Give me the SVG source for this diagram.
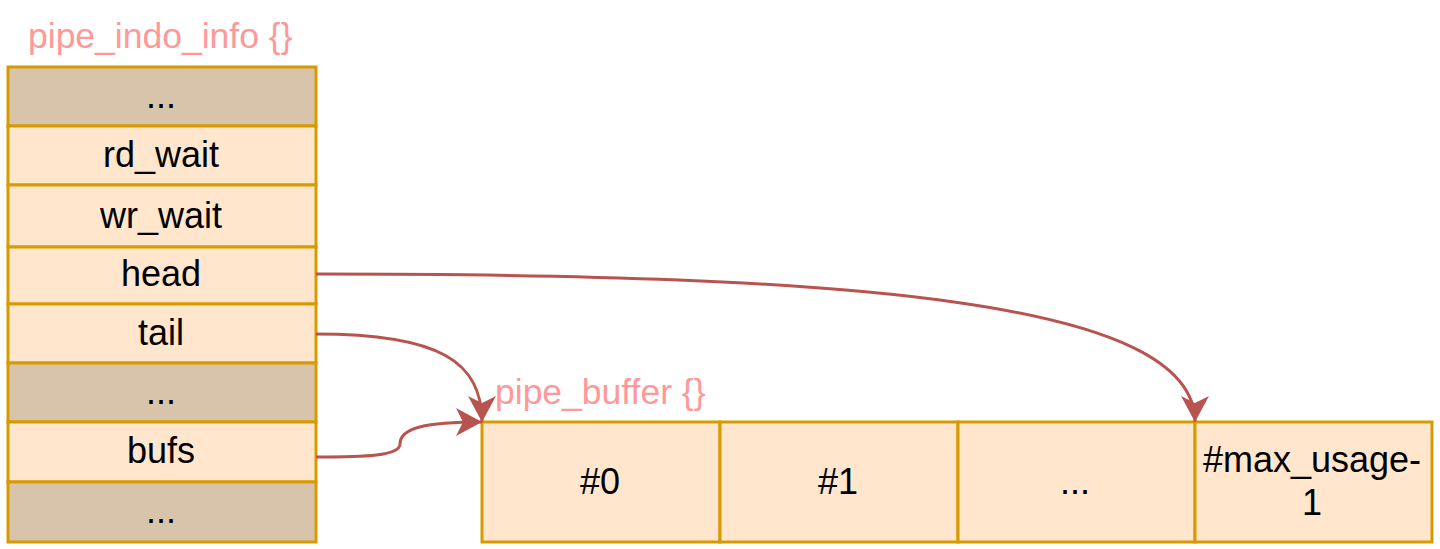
<svg xmlns="http://www.w3.org/2000/svg" width="1440" height="549" viewBox="0 0 1440 549">
<defs>
<style>
.t{font-family:"Liberation Sans",Arial,sans-serif;font-size:36px;fill:#000;text-anchor:middle}
.h{font-family:"Liberation Sans",Arial,sans-serif;font-size:35.5px;fill:#ff9999}
.c{stroke:#d79b00;stroke-width:3}
.l{fill:#ffe6cc}
.d{fill:#d8c4ab}
.e{fill:none;stroke:#b85450;stroke-width:3}
</style>
<marker id="ah" markerUnits="userSpaceOnUse" markerWidth="28" markerHeight="28" viewBox="0 0 28 28" refX="26" refY="14" orient="auto">
<path d="M0,0 L26,14 L0,28 L7,14 z" fill="#b85450"/>
</marker>
</defs>
<rect width="1440" height="549" fill="#fff"/>
<text class="h" x="28" y="48">pipe_indo_info {}</text>
<text class="h" x="495" y="404">pipe_buffer {}</text>
<g id="pipe_indo_info">
<g id="r0"><rect class="c d" x="8" y="67" width="308" height="59"/><text class="t" x="161" y="108">...</text></g>
<g id="r1"><rect class="c l" x="8" y="126" width="308" height="59"/><text class="t" x="161" y="167">rd_wait</text></g>
<g id="r2"><rect class="c l" x="8" y="185" width="308" height="62"/><text class="t" x="161" y="228">wr_wait</text></g>
<g id="r3"><rect class="c l" x="8" y="247" width="308" height="57"/><text class="t" x="161" y="286">head</text></g>
<g id="r4"><rect class="c l" x="8" y="304" width="308" height="59"/><text class="t" x="161" y="345">tail</text></g>
<g id="r5"><rect class="c d" x="8" y="363" width="308" height="59"/><text class="t" x="161" y="404">...</text></g>
<g id="r6"><rect class="c l" x="8" y="422" width="308" height="60"/><text class="t" x="161" y="463">bufs</text></g>
<g id="r7"><rect class="c d" x="8" y="482" width="308" height="60"/><text class="t" x="161" y="523">...</text></g>
</g>
<g id="pipe_buffer">
<g id="b0"><rect class="c l" x="482" y="422" width="238" height="120"/><text class="t" x="600" y="494">#0</text></g>
<g id="b1"><rect class="c l" x="720" y="422" width="238" height="120"/><text class="t" x="838" y="494">#1</text></g>
<g id="b2"><rect class="c l" x="958" y="422" width="237" height="120"/><text class="t" x="1075" y="494">...</text></g>
<g id="b3"><rect class="c l" x="1195" y="422" width="237" height="120"/><text class="t" x="1312" y="472">#max_usage-</text><text class="t" x="1312" y="515">1</text></g>
</g>
<g id="connectors">
<path class="e" d="M316,274 C850,274 1195,300 1195,422" marker-end="url(#ah)"/>
<path class="e" d="M316,334 C440,334 482,362 482,422" marker-end="url(#ah)"/>
<path class="e" d="M316,457 C365,457 400,456 400,444 C400,428 425,422 482,422" marker-end="url(#ah)"/>
</g>
</svg>
